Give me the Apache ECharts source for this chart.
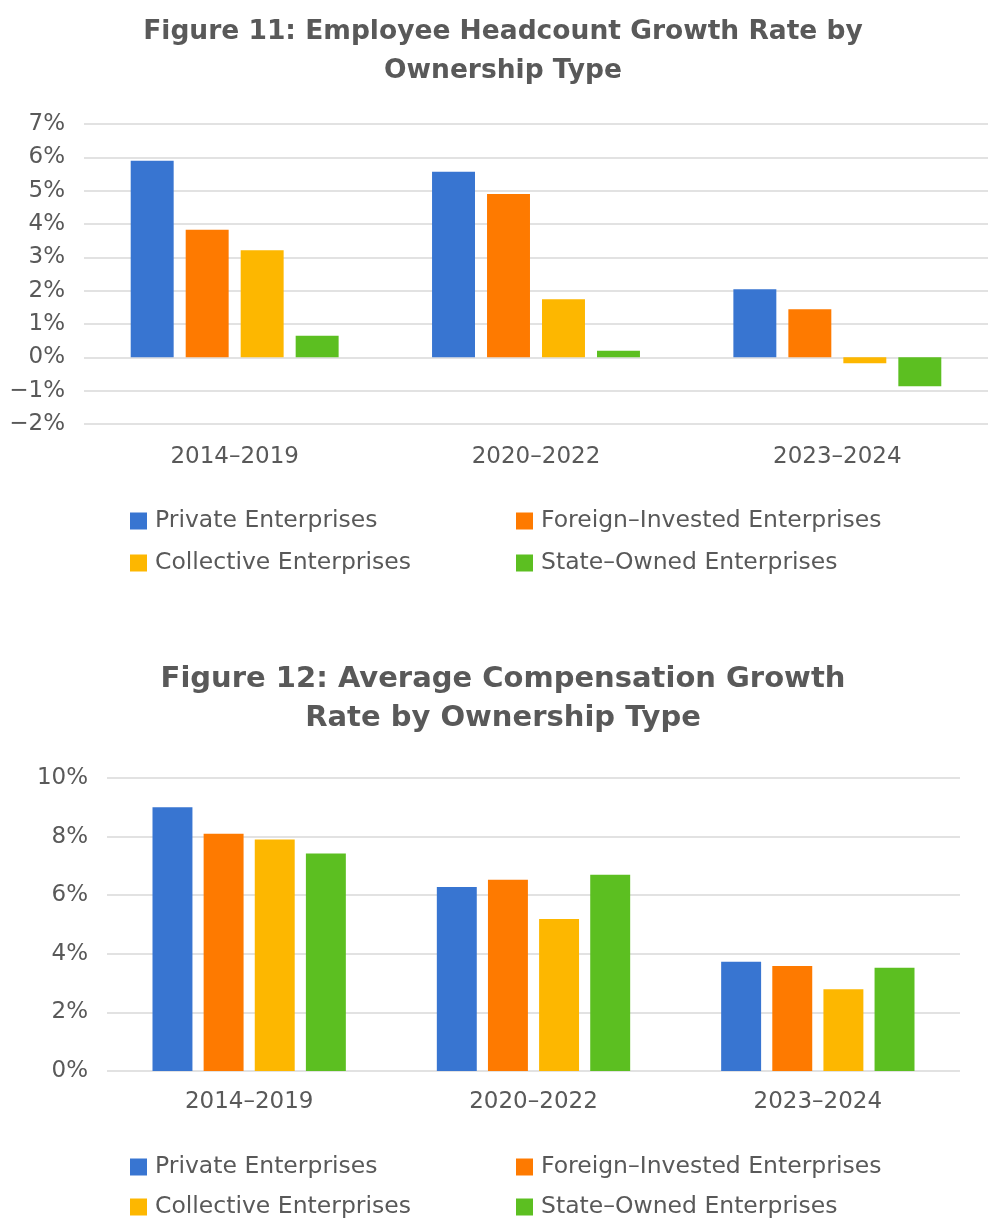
<!DOCTYPE html>
<html>
<head>
<meta charset="utf-8">
<script src="https://cdn.jsdelivr.net/npm/echarts@6/dist/echarts.min.js"></script>
<style>
  html, body { margin: 0; padding: 0; background: #fff; }
  .chart { width: 1006px; height: 616px; }
</style>
</head>
<body>
<div id="fig11" class="chart"></div>
<div id="fig12" class="chart"></div>
<script>
// categories and series (values in %)
var periods = ['2014–2019', '2020–2022', '2023–2024']
var seriesNames = ['Private Enterprises', 'Foreign–Invested Enterprises', 'Collective Enterprises', 'State–Owned Enterprises']
var colors = ['#3875d1', '#fe7a00', '#fdb700', '#5cbf21']

// Figure 11: headcount growth
var headPrivate = [5.9, 5.57, 2.04]
var headForeign = [3.83, 4.9, 1.44]
var headCollective = [3.21, 1.74, -0.18]
var headState = [0.65, 0.2, -0.87]

// Figure 12: compensation growth
var payPrivate = [9.0, 6.28, 3.73]
var payForeign = [8.1, 6.53, 3.58]
var payCollective = [7.9, 5.19, 2.79]
var payState = [7.42, 6.7, 3.52]

var fontFam = '"DejaVu Sans", Verdana, sans-serif'
var textGray = '#595959'

function pct(v) {
    return (v < 0 ? '−' + Math.abs(v) : v) + '%'
}

// one legend box per item so the two columns line up
function legends(top1, top2) {
    var pos = [[130, top1], [516, top1], [130, top2], [516, top2]]
    return seriesNames.map(function (name, i) {
        return {
            data: [{ name: name, icon: 'rect' }],
            left: pos[i][0],
            top: pos[i][1],
            padding: 0,
            itemWidth: 17,
            itemHeight: 17,
            itemGap: 0,
            selectedMode: false,
            textStyle: { fontSize: 23.5, color: textGray, fontFamily: fontFam, padding: [0, 0, 0, 3] }
        }
    })
}

function buildOption(cfg) {
    var data = cfg.data
    return {
        animation: false,
        title: {
            text: cfg.title,
            left: 'center',
            top: cfg.titleTop,
            textStyle: { fontSize: cfg.titleSize, fontWeight: 'bold', color: textGray, fontFamily: fontFam, lineHeight: 39 }
        },
        legend: legends(cfg.legendTop1, cfg.legendTop2),
        grid: cfg.grid,
        xAxis: {
            type: 'category',
            data: periods,
            axisLine: { show: false },
            axisTick: { show: false },
            axisLabel: { fontSize: 23, color: textGray, fontFamily: fontFam, margin: cfg.xMargin }
        },
        yAxis: {
            type: 'value',
            min: cfg.min,
            max: cfg.max,
            interval: cfg.interval,
            axisLabel: { fontSize: 23, color: textGray, fontFamily: fontFam, margin: 19, formatter: pct },
            splitLine: { lineStyle: { color: '#d9d9d9', width: 1.5 } }
        },
        series: seriesNames.map(function (name, i) {
            return {
                name: name,
                type: 'bar',
                data: data[i],
                barGap: cfg.barGap,
                barCategoryGap: cfg.catGap,
                itemStyle: { color: colors[i] }
            }
        })
    }
}

var chart11 = echarts.init(document.getElementById('fig11'))
chart11.setOption(buildOption({
    title: 'Figure 11: Employee Headcount Growth Rate by\nOwnership Type',
    titleTop: 8,
    titleSize: 26.5,
    grid: { left: 84, right: 18, top: 124, height: 300 },
    data: [headPrivate, headForeign, headCollective, headState],
    min: -2, max: 7, interval: 1,
    xMargin: 22,
    barGap: '28%', catGap: '31%',
    legendTop1: 509, legendTop2: 551
}))

var chart12 = echarts.init(document.getElementById('fig12'))
chart12.setOption(buildOption({
    title: 'Figure 12: Average Compensation Growth\nRate by Ownership Type',
    titleTop: 39,
    titleSize: 29,
    grid: { left: 107, right: 46, top: 162, height: 293 },
    data: [payPrivate, payForeign, payCollective, payState],
    min: 0, max: 10, interval: 2,
    xMargin: 20,
    barGap: '28%', catGap: '32%',
    legendTop1: 539, legendTop2: 579
}))
</script>
</body>
</html>
